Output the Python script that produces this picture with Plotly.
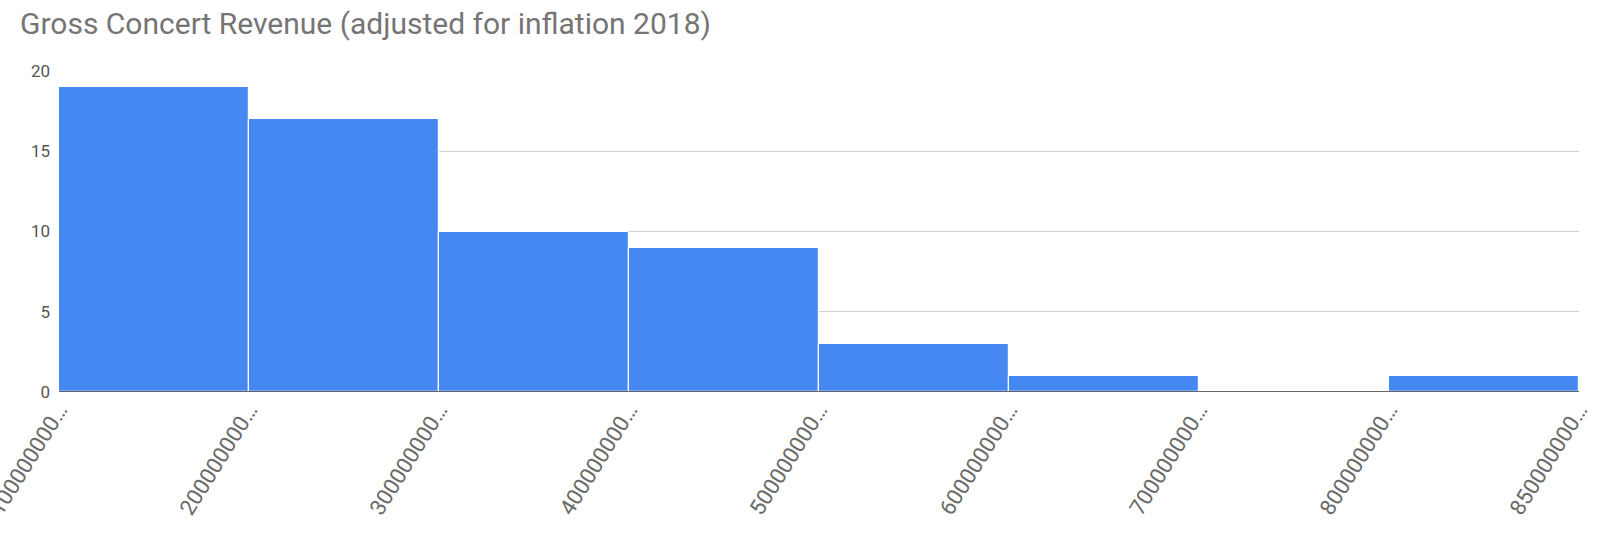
import plotly.graph_objects as go

bin_edges = ["100000000…", "200000000…", "300000000…", "400000000…", "500000000…",
             "600000000…", "700000000…", "800000000…", "850000000…"]
counts = [19, 17, 10, 9, 3, 1, 0, 1]

centers = [i + 0.5 for i in range(len(counts))]
edge_pos = list(range(len(bin_edges)))

fig = go.Figure()
fig.add_trace(go.Bar(
    x=centers, y=counts, width=[1] * len(counts),
    marker=dict(color="#4588F2", line=dict(color="white", width=1.2), cornerradius=2),
    hoverinfo="y",
))
fig.update_layout(
    width=1600, height=555,
    margin=dict(l=59, r=21, t=71, b=163, autoexpand=False),
    paper_bgcolor="white", plot_bgcolor="white",
    font=dict(family="Roboto, Arial, sans-serif", color="#444444", size=17),
    title=dict(text="Gross Concert Revenue (adjusted for inflation 2018)",
               x=20 / 1600, xanchor="left", y=1 - 23 / 555, yanchor="middle",
               font=dict(size=30, color="#757575", family="Roboto, Arial, sans-serif")),
    bargap=0,
    showlegend=False,
)
fig.update_xaxes(
    range=[0, len(counts)], tickmode="array", tickvals=edge_pos, ticktext=bin_edges,
    tickangle=-58, showgrid=False, zeroline=False, showline=False, ticks="",
    tickfont=dict(size=22, color="#6a6a6a"), fixedrange=True, automargin=False,
    ticklabeloverflow="allow",
)
fig.update_yaxes(
    range=[0, 20], tickvals=[0, 5, 10, 15, 20], showgrid=True, gridcolor="#d0d0d0",
    gridwidth=1, zeroline=False, showline=False, ticks="", ticklabelstandoff=8,
    tickfont=dict(size=17, color="#555555"), fixedrange=True, automargin=False,
)
fig.add_shape(type="line", xref="paper", yref="y", x0=0, x1=1, y0=0, y1=0,
              line=dict(color="#333333", width=1.5))
fig.write_html("out.html", config={"displayModeBar": False},
               post_script="document.body.style.margin='0';document.body.style.overflow='hidden';")
